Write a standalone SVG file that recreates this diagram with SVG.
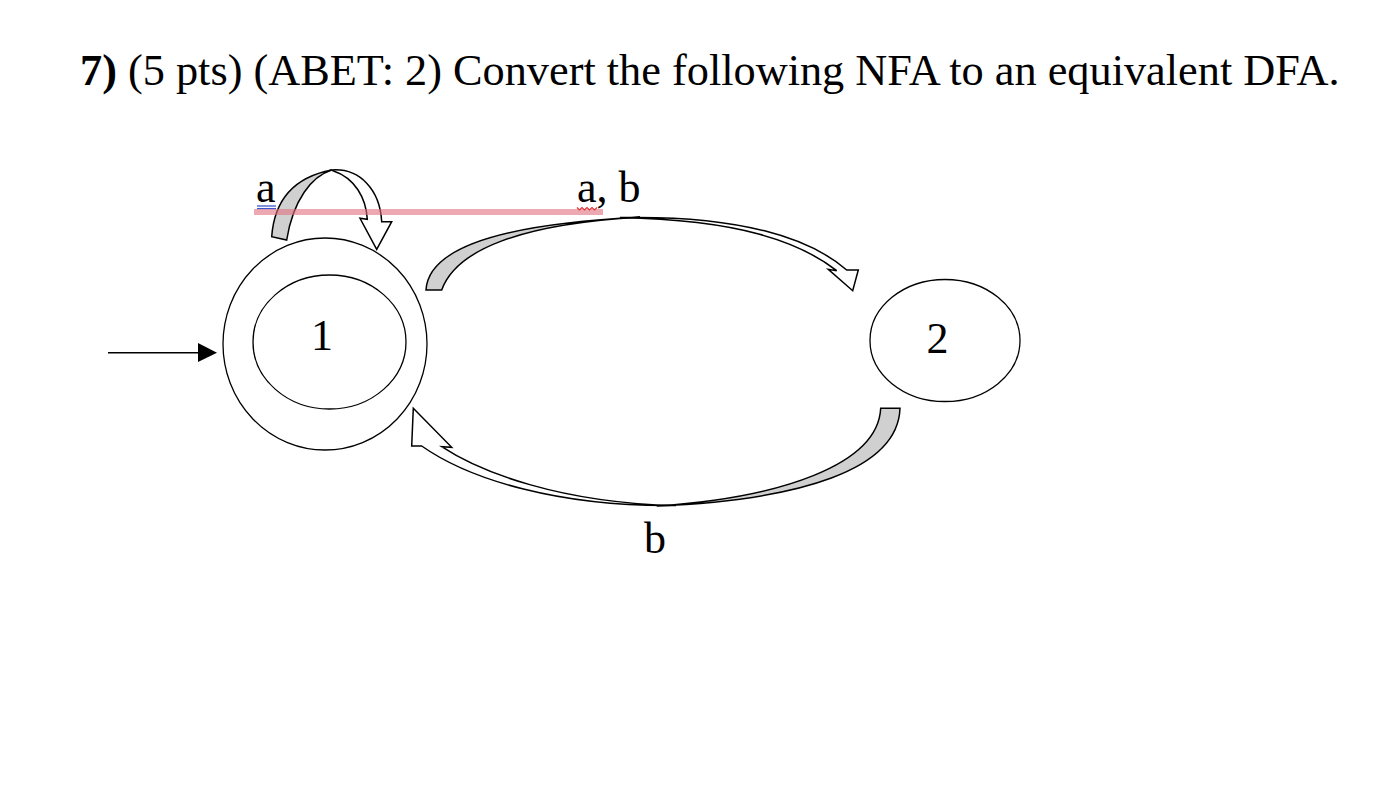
<svg xmlns="http://www.w3.org/2000/svg" width="1394" height="798" viewBox="0 0 1394 798">
<style>
text{font-family:"Liberation Serif","Times New Roman",serif;font-size:44px;fill:#000}
.st{fill:none;stroke:#000;stroke-width:1.3}
.band{fill:#d0d0d0;stroke:#000;stroke-width:1.5;stroke-linejoin:miter}
.shaft{fill:#fff;stroke:#000;stroke-width:1.5;stroke-linejoin:miter}
</style>
<rect width="1394" height="798" fill="#fff"/>
<text id="title" x="80" y="85" style="font-size:44.3px"><tspan font-weight="bold">7)</tspan> (5 pts) (ABET: 2) Convert the following NFA to an equivalent DFA.</text>

<g id="connectors">
  <g id="start-arrow">
    <line x1="108" y1="352.7" x2="201" y2="352.7" stroke="#000" stroke-width="1.6"/>
    <polygon points="198,343 217,352.7 198,362" fill="#000"/>
  </g>
  <g id="loop-1">
    <path class="band" d="M271.7,236.7 C274,205 290,178 331.7,170 C312,176 293,200 286.7,240 Z"/>
    <path class="shaft" d="M331.7,170 C360,168 380,190 381.7,221.7 L391.7,221.7 L376.7,249.3 L360,218.3 L367.3,219.3 C366,198 355,178 333,170.7 Z"/>
  </g>
  <g id="edge-1-2">
    <path class="band" d="M426,290 C428,255 480,225 640,217.3 C520,224 456,250 441.7,290 Z"/>
    <path class="shaft" d="M620,217.6 C740,215 810,238 846.7,270 L858.3,270 L852.7,290.7 L828.3,269.3 L836.7,270.7 C800,242 740,220 620,217.6 Z"/>
  </g>
  <g id="edge-2-1">
    <path class="band" d="M880.7,408.3 L900,408.3 C898,470 800,500 656.7,506 C780,498 878,465 880.7,408.3 Z"/>
    <path class="shaft" d="M676,505.5 C560,507 470,480 421.7,446 L411.7,446 L413.3,408.3 L451.7,447.3 L441.7,446.7 C480,472 560,503 676,505.5 Z"/>
  </g>
  <g id="edge-labels">
    <text x="256" y="202">a</text>
    <text x="577" y="202">a, b</text>
    <text x="644" y="553">b</text>
  </g>
</g>

<g id="state1">
  <ellipse class="st" cx="325" cy="344" rx="102" ry="106"/>
  <ellipse class="st" cx="329.5" cy="342" rx="76.5" ry="67"/>
  <text x="322" y="350" text-anchor="middle">1</text>
</g>
<g id="state2">
  <ellipse class="st" cx="945" cy="340.5" rx="75" ry="61"/>
  <text x="937.5" y="353" text-anchor="middle">2</text>
</g>

<g id="annotations">
  <line x1="257" y1="206" x2="276" y2="206" stroke="#3a55d0" stroke-width="1.3"/>
  <line x1="257" y1="208.6" x2="276" y2="208.6" stroke="#3a55d0" stroke-width="1.3"/>
  <rect x="254" y="209" width="349" height="6" fill="#e0707f" fill-opacity="0.6"/>
  <path d="M577,207.5 l2.5,2.5 l2.5,-2.5 l2.5,2.5 l2.5,-2.5 l2.5,2.5 l2.5,-2.5 l2.5,2.5 l2.5,-2.5" fill="none" stroke="#e03030" stroke-width="1.1"/>
</g>
</svg>
